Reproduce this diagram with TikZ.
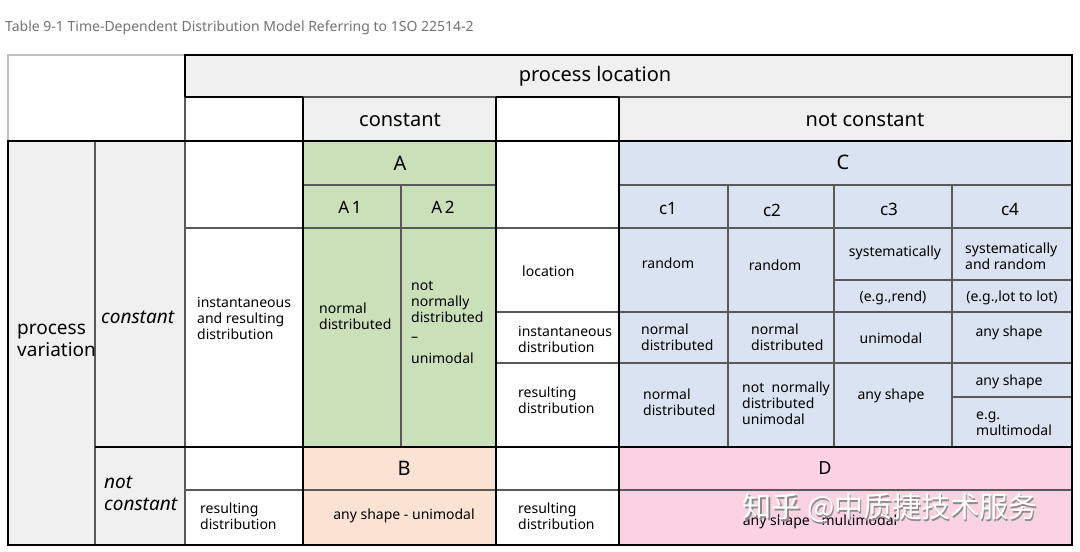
\documentclass[tikz,border=0pt]{standalone}
\usepackage{fontspec}
\setmainfont{Noto Sans}
\newfontfamily\cjk{Noto Sans CJK SC}
\definecolor{hdrgray}{HTML}{F0F0F0}
\definecolor{agreen}{HTML}{C9E0B9}
\definecolor{cblue}{HTML}{D9E3F1}
\definecolor{bpeach}{HTML}{FBE3D3}
\definecolor{dpink}{HTML}{FAD2E2}
\tikzset{
    thin grid/.style={draw=black!65,line width=1.2pt},
    thick grid/.style={draw=black,line width=2.6pt},
    hdr/.style={inner sep=0pt,font=\fontsize{20}{24}\selectfont},
    sub/.style={inner sep=0pt,font=\fontsize{17}{20}\selectfont},
    txt/.style={inner sep=0pt,align=left,font=\fontsize{14}{16}\selectfont},
    ctxt/.style={inner sep=0pt,align=center,font=\fontsize{14}{16}\selectfont},
}
\begin{document}
\begin{tikzpicture}[x=1pt,y=-1pt]
    \useasboundingbox (0,0) rectangle (1080,552);
    %%%%%%%% Fondi %%%%%%%%
    \fill[hdrgray] (185,55) rectangle (1072,97);
    \fill[hdrgray] (303,97) rectangle (496,141);
    \fill[hdrgray] (619,97) rectangle (1072,141);
    \fill[hdrgray] (8,141) rectangle (185,545);
    \fill[agreen] (303,141) rectangle (496,447);
    \fill[cblue] (619,141) rectangle (1072,447);
    \fill[bpeach] (303,447) rectangle (496,545);
    \fill[dpink] (619,447) rectangle (1072,545);

    %%%%%%%% Linee sottili %%%%%%%%
    \draw[thin grid,draw=black!25] (8,55) rectangle (185,141);
    \draw[thin grid] (185,97) -- (1072,97);
    \draw[thin grid] (303,185) -- (496,185) (619,185) -- (1072,185);
    \draw[thin grid] (185,228) -- (1072,228);
    \draw[thin grid] (834,280) -- (1072,280);
    \draw[thin grid] (496,312) -- (1072,312);
    \draw[thin grid] (496,363) -- (1072,363);
    \draw[thin grid] (952,397) -- (1072,397);
    \draw[thin grid] (185,490) -- (1072,490);
    \draw[thin grid] (185,97) -- (185,545);
    \draw[thin grid] (95,141) -- (95,545);
    \draw[thin grid] (401,185) -- (401,447);
    \foreach \x in {728,834,952}
        \draw[thin grid] (\x,185) -- (\x,447);

    %%%%%%%% Linee spesse %%%%%%%%
    \draw[thick grid] (185,97) -- (185,55) -- (1072,55) -- (1072,545) -- (8,545) -- (8,141) -- (1072,141);
    \draw[thick grid] (185,97) -- (303,97) (496,97) -- (619,97);
    \foreach \x in {303,496,619}
        \draw[thick grid] (\x,97) -- (\x,545);
    \draw[thick grid] (95,447) -- (1072,447);

    %%%%%%%% Testo %%%%%%%%
    \node[anchor=west,inner sep=0pt,text=black!55,font=\fontsize{14}{16}\selectfont] (title) at (5,28) {Table 9-1 Time-Dependent Distribution Model Referring to 1SO 22514-2};
    \node[hdr] (ploc) at (595,76) {process location};
    \node[hdr] (const) at (400,120) {constant};
    \node[hdr] (nconst) at (865,120) {not constant};
    \node[hdr] (A) at (400,163) {A};
    \node[hdr] (C) at (843,162) {C};
    \node[hdr] (B) at (404,468) {B};
    \node[hdr,font=\fontsize{18}{22}\selectfont] (D) at (825,468) {D};
    \node[sub] (A1) at (350,207) {A\,1};
    \node[sub] (A2) at (443,207) {A\,2};
    \node[sub] (c1) at (668,209) {c1};
    \node[sub] (c2) at (772,210) {c2};
    \node[sub] (c3) at (889,209) {c3};
    \node[sub] (c4) at (1010,209) {c4};

    \node[anchor=west,inner sep=0pt,align=left,font=\fontsize{19}{22}\selectfont] (pvar) at (17,340) {process\\variation};
    \node[anchor=west,inner sep=0pt,font=\fontsize{19}{22}\selectfont\itshape] (pconst) at (101,317) {constant};
    \node[anchor=west,inner sep=0pt,align=left,font=\fontsize{19}{22}\selectfont\itshape] (pnconst) at (104,493) {not\\constant};

    \node[txt,anchor=west] (instres) at (197,318) {instantaneous\\and resulting\\distribution};
    \node[txt,anchor=west] (resB) at (200,516) {resulting\\distribution};
    \node[txt,anchor=west] (nA1) at (319,316) {normal\\distributed};
    \node[txt,anchor=west] (nA2) at (411,322) {not\\normally\\distributed\\[3pt]--\\[6pt]unimodal};

    \node[txt,anchor=west] (loc) at (522,271) {location};
    \node[txt,anchor=west] (inst) at (518,339) {instantaneous\\distribution};
    \node[txt,anchor=west] (res) at (518,400) {resulting\\distribution};
    \node[txt,anchor=west] (resD) at (518,516) {resulting\\distribution};

    \node[ctxt] (r1) at (668,263) {random};
    \node[ctxt] (r2) at (775,265) {random};
    \node[ctxt] (s3) at (895,253) {systematically};
    \node[txt,anchor=west] (s4) at (965,256) {systematically\\and random};
    \node[ctxt] (e3) at (893,298) {(e.g.,rend)};
    \node[ctxt] (e4) at (1012,298) {(e.g.,lot to lot)};

    \node[txt,anchor=west] (i1) at (641,337) {normal\\distributed};
    \node[txt,anchor=west] (i2) at (751,337) {normal\\distributed};
    \node[ctxt] (i3) at (891,338) {unimodal};
    \node[ctxt] (i4) at (1009,333) {any shape};

    \node[txt,anchor=west] (q1) at (643,402) {normal\\distributed};
    \node[txt,anchor=west] (q2) at (742,403) {not\ \ normally\\distributed\\unimodal};
    \node[ctxt] (q3) at (891,396) {any shape};
    \node[ctxt] (q4) at (1009,382) {any shape};
    \node[txt,anchor=west] (m4) at (976,424) {e.g.\\multimodal};

    \node[ctxt] (anyB) at (404,516) {any shape - unimodal};
    \node[ctxt] (anyD) at (820,522) {any shape - multimodal};

    \node[inner sep=0pt,text=black!45,font=\cjk\fontsize{29}{32}\selectfont] (wm0) at (891.5,509.5) {知乎 @中质捷技术服务};
    \node[inner sep=0pt,text=white,font=\cjk\fontsize{29}{32}\selectfont] (wm) at (890,508) {知乎 @中质捷技术服务};
\end{tikzpicture}
\end{document}
